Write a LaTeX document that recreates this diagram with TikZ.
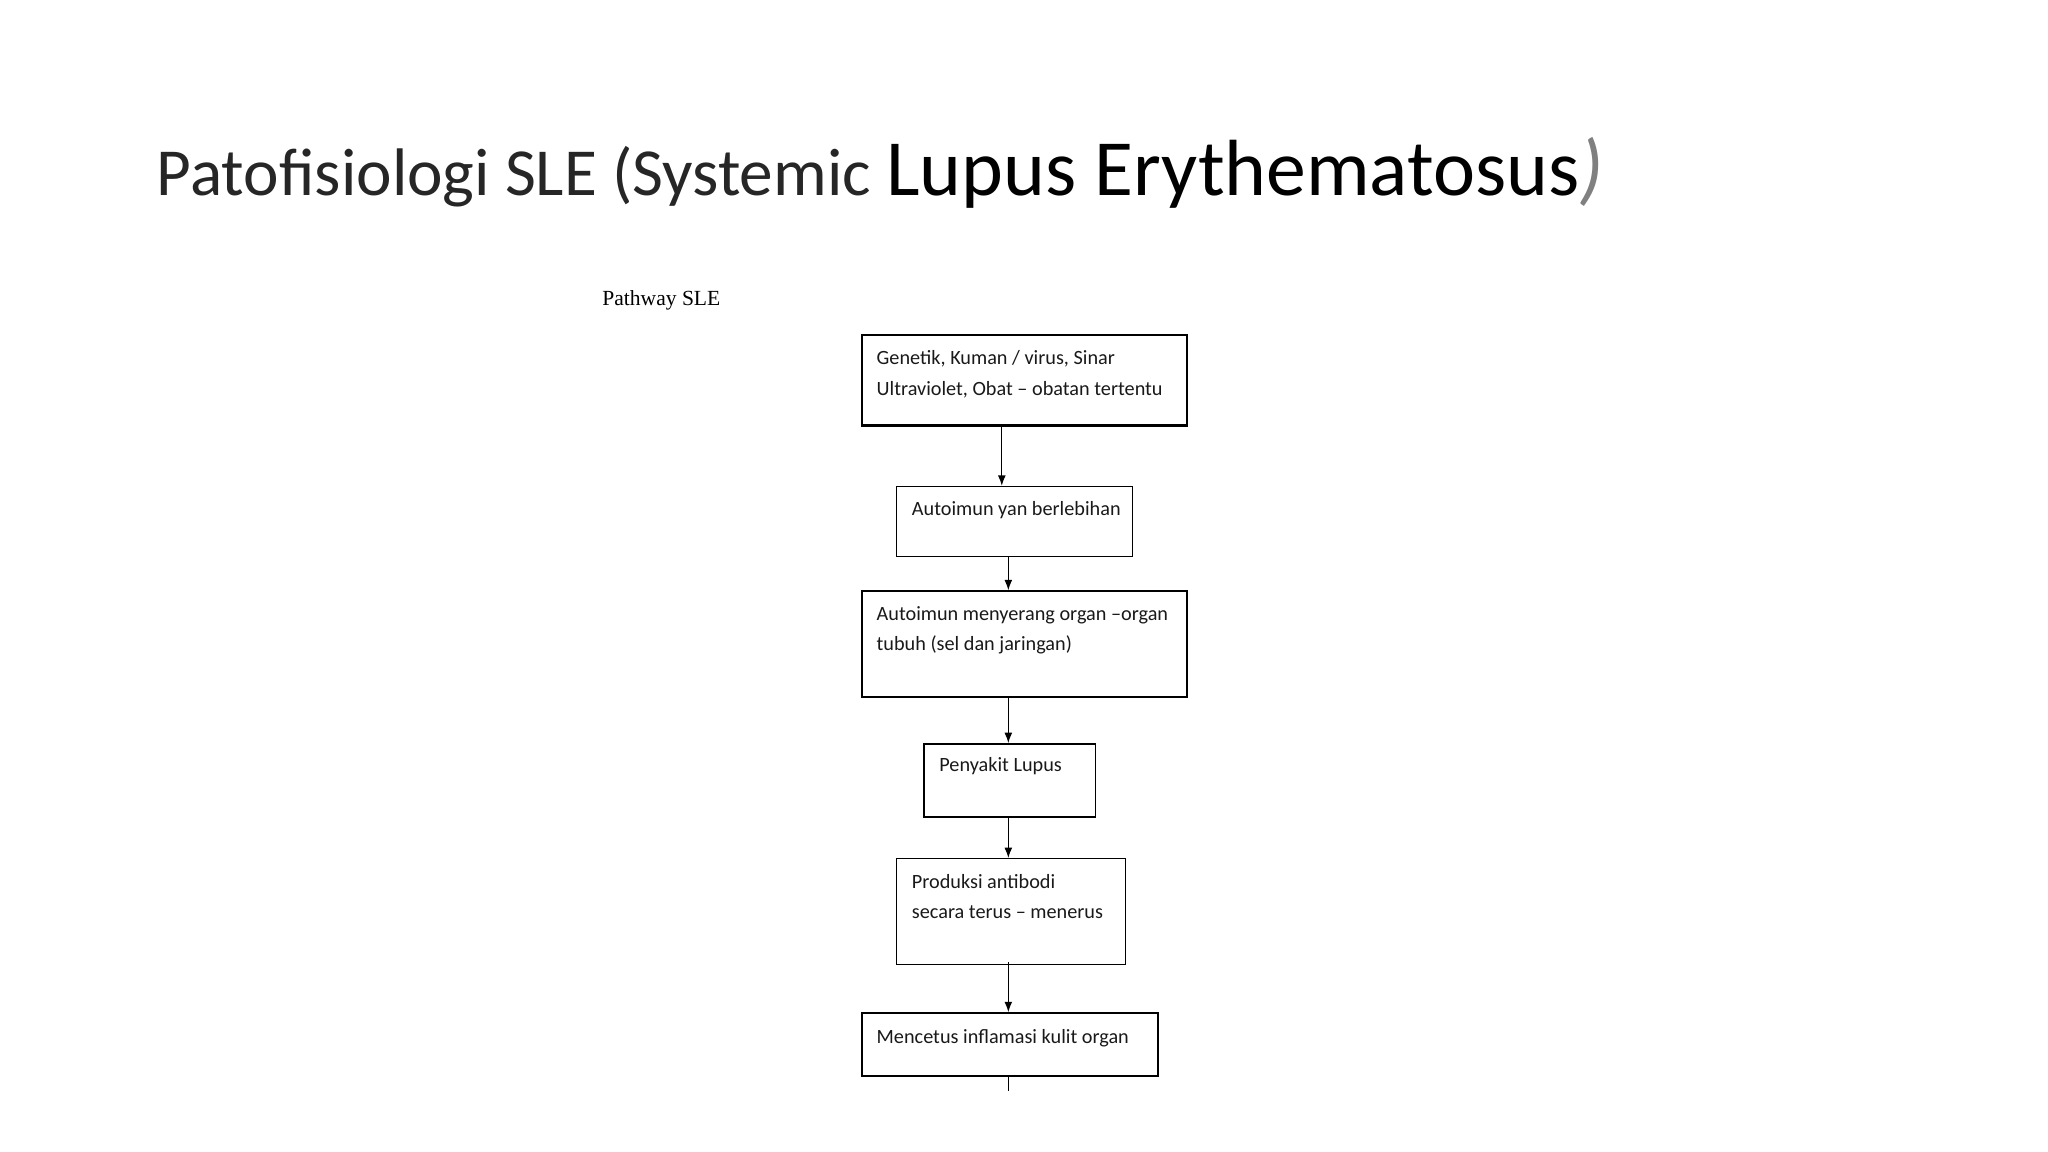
\documentclass[tikz,border=0pt]{standalone}
\usepackage{fontspec}
\setmainfont{Carlito}
\newfontfamily\serifx{Liberation Serif}
\usetikzlibrary{arrows.meta}
\begin{document}
\begin{tikzpicture}[x=1pt,y=-1pt,
  box/.style={draw,line width=1.6pt,anchor=north west,inner sep=0pt},
  thin/.style={draw,line width=0.8pt,anchor=north west,inner sep=0pt},
  lab/.style={anchor=north west,inner sep=0pt,font=\fontsize{15.5}{23.5}\selectfont,align=left,text=black!90},
  arr/.style={-{Latex[length=8pt,width=6pt]},line width=1pt}]
\useasboundingbox (0,0) rectangle (1568,882);
\node[anchor=base west,inner sep=0pt] (title) at (120,150)
 {\fontsize{51.5}{55}\selectfont\color{black!85}Patofisiologi SLE (Systemic {\fontsize{61}{64}\selectfont\color{black} Lupus Erythematosus}{\fontsize{61}{64}\selectfont\color{black!50}\itshape )}};
\node[anchor=north west,inner sep=0pt,font=\serifx\fontsize{16.5}{18}\selectfont] (pw) at (461,222) {Pathway SLE};
\coordinate (c1) at (767,0);
\coordinate (c2) at (772,0);
\node[box,minimum width=249,minimum height=69] (b1) at (659,256) {};
\node[lab] (t1) at (671,268) {Genetik, Kuman / virus, Sinar\\Ultraviolet, Obat -- obatan tertentu};
\node[thin,minimum width=181,minimum height=54] (b2) at (686,372) {};
\node[lab] (t2) at (698,384) {Autoimun yan berlebihan};
\node[box,minimum width=249,minimum height=81] (b3) at (659,452) {};
\node[lab] (t3) at (671,464) {Autoimun menyerang organ --organ\\tubuh (sel dan jaringan)};
\node[box,line width=1.2pt,minimum width=131,minimum height=56] (b4) at (707,569) {};
\node[lab] (t4) at (719,580) {Penyakit Lupus};
\node[thin,minimum width=175,minimum height=81] (b5) at (686,657) {};
\node[lab] (t5) at (698,669) {Produksi antibodi\\secara terus -- menerus};
\node[box,minimum width=227,minimum height=48] (b6) at (659,775) {};
\node[lab] (t6) at (671,788) {Mencetus inflamasi kulit organ};
\coordinate (e) at (772,835);
\draw[arr] (b1.south -| c1) -- (b2.north -| c1);
\draw[arr] (b2.south -| c2) -- (b3.north -| c2);
\draw[arr] (b3.south -| c2) -- (b4.north -| c2);
\draw[arr] (b4.south -| c2) -- (b5.north -| c2);
\draw[arr] ([yshift=2pt]b5.south -| c2) -- (b6.north -| c2);
\draw[line width=1pt] (b6.south -| c2) -- (e);
\end{tikzpicture}
\end{document}
